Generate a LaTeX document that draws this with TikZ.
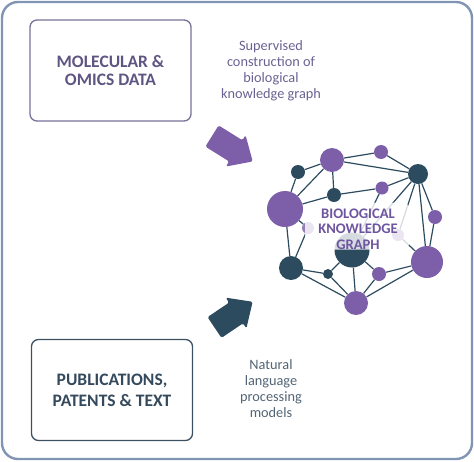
\documentclass[tikz,border=0pt]{standalone}
\usepackage{fontspec}
\setmainfont{Carlito}
\usetikzlibrary{backgrounds}
\definecolor{frameblue}{HTML}{8094B4}
\definecolor{kgpurple}{HTML}{7C5FA8}
\definecolor{kgdark}{HTML}{2D4B5F}
\definecolor{toptxt}{HTML}{5F5582}
\definecolor{topline}{HTML}{7A7099}
\definecolor{captxt}{HTML}{6B6192}
\definecolor{bottxt}{HTML}{34495C}
\definecolor{botline}{HTML}{3E5163}
\definecolor{kgtxt}{HTML}{6E55A0}
\begin{document}
\begin{tikzpicture}[x=1pt,y=-1pt,
  pnode/.style={circle,fill=kgpurple,inner sep=0pt,minimum size=#1},
  dnode/.style={circle,fill=kgdark,inner sep=0pt,minimum size=#1},
  fnode/.style={circle,fill=kgpurple!80,inner sep=0pt,minimum size=#1},
  edge/.style={draw=kgdark,line width=1.2pt},
  srcbox/.style={draw,rounded corners=7pt,line width=1.3pt,minimum width=161pt,minimum height=101pt,align=center},
  caption/.style={align=center,font=\fontsize{14.3}{16}\selectfont,text=captxt},
  blockarrow/.style={rounded corners=1.5pt}
]
\useasboundingbox (0,0) rectangle (474,461);
% outer frame
\draw[frameblue,line width=2.4pt,rounded corners=16pt] (2,2) rectangle (472,459);

% source boxes
\node[srcbox,draw=topline,text=toptxt,font=\bfseries\fontsize{17.5}{18.5}\selectfont] (mol) at (110.5,70.5) {MOLECULAR \&\\OMICS DATA};
\node[srcbox,draw=botline,text=bottxt,font=\bfseries\fontsize{17.5}{21}\selectfont] (pub) at (112,390) {PUBLICATIONS,\\PATENTS \& TEXT};

% captions
\node[caption] (cap1) at (271,71) {Supervised\\construction of\\biological\\knowledge graph};
\node[caption,text=bottxt!85] (cap2) at (271,389) {Natural\\language\\processing\\models};

% block arrows
\begin{scope}[shift={(212,136)},rotate=-32]
\fill[kgpurple,blockarrow] (0,-12.5) -- (28,-12.5) -- (28,-18.5) -- (48,0) -- (28,18.5) -- (28,12.5) -- (0,12.5) -- cycle;
\end{scope}
\begin{scope}[shift={(214.5,327.5)},rotate=34]
\fill[kgdark,blockarrow] (0,-12.5) -- (26,-12.5) -- (26,-18.5) -- (46,0) -- (26,18.5) -- (26,12.5) -- (0,12.5) -- cycle;
\end{scope}

% knowledge graph nodes
\node[pnode=24pt] (n1) at (332,160) {};
\node[pnode=14pt] (n2) at (381,152) {};
\node[dnode=20pt] (n3) at (418,174) {};
\node[dnode=14pt] (n4) at (298,172) {};
\node[dnode=14pt] (n5) at (334,195) {};
\node[pnode=13pt] (n6) at (382,188) {};
\node[pnode=36pt] (n7) at (285,209) {};
\node[pnode=14pt] (n8) at (435,217) {};
\node[dnode=35pt] (n9) at (352,250) {};
\node[pnode=32pt] (n10) at (427,262) {};
\node[dnode=24pt] (n11) at (291,268) {};
\node[dnode=10pt] (n12) at (328,274) {};
\node[pnode=14pt] (n13) at (379,274) {};
\node[pnode=24pt] (n14) at (356,303) {};
\node[fnode=12pt] (fa) at (308,228) {};
\node[fnode=12pt] (fb) at (398,235) {};

\begin{scope}[on background layer]
\path[edge] (n1) -- (n2);
\path[edge] (n1) -- (n3);
\path[edge] (n1) -- (n4);
\path[edge] (n1) -- (n5);
\path[edge] (n1) -- (n7);
\path[edge] (n2) -- (n3);
\path[edge] (n4) -- (n7);
\path[edge] (n5) -- (n7);
\path[edge] (n5) -- (n6);
\path[edge] (n6) -- (n3);
\path[edge] (n3) -- (n8);
\path[edge] (n3) -- (n10);
\path[edge] (n3) -- (fb);
\path[edge] (n3) -- (n9);
\path[edge] (n6) -- (n9);
\path[edge] (n8) -- (n10);
\path[edge] (fb) -- (n10);
\path[edge] (n7) -- (n11);
\path[edge] (n7) -- (fa);
\path[edge] (fa) -- (n11);
\path[edge] (n11) -- (n12);
\path[edge] (n12) -- (n9);
\path[edge] (n11) -- (n14);
\path[edge] (n12) -- (n14);
\path[edge] (n9) -- (n14);
\path[edge] (n9) -- (n13);
\path[edge] (n13) -- (n14);
\path[edge] (n13) -- (n10);
\path[edge] (n10) -- (n14);
\end{scope}

% translucent label panel
\node[fill=white,fill opacity=0.8,rounded corners=6pt,inner sep=0pt,minimum width=104pt,minimum height=47pt] (panel) at (357,226) {};
\node[align=center,text=kgtxt,font=\bfseries\fontsize{14.6}{15.5}\selectfont] (kg) at (358,229) {BIOLOGICAL\\KNOWLEDGE\\GRAPH};
\end{tikzpicture}
\end{document}
